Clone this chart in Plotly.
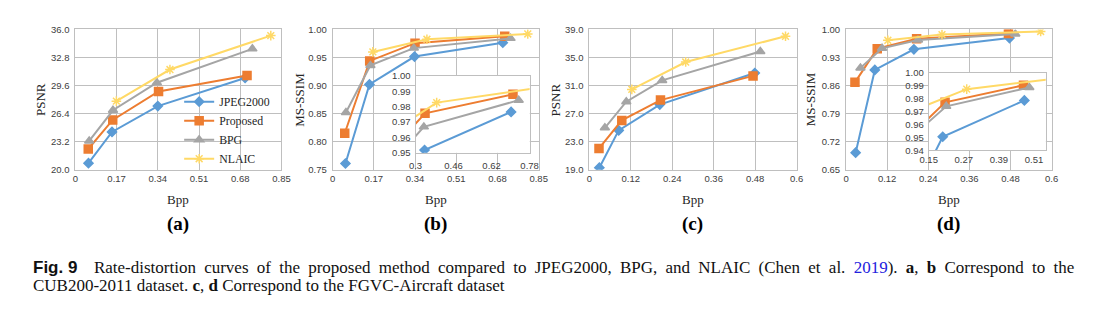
import plotly.graph_objects as go

W, H = 1098, 331

# ---- data -------------------------------------------------------------
series_names = ["JPEG2000", "Proposed", "BPG", "NLAIC"]
series_colors = ["#5B9BD5", "#ED7D31", "#A5A5A5", "#FFD966"]
series_symbols = ["diamond", "square", "triangle-up", "asterisk-open"]
series_sizes = [7, 8, 8, 8]

# (a) CUB200-2011, PSNR
a_bpp = [
    [0.054, 0.151, 0.340, 0.700],
    [0.053, 0.154, 0.343, 0.708],
    [0.057, 0.155, 0.336, 0.730],
    [0.169, 0.390, 0.806],
]
a_psnr = [
    [20.74, 24.31, 27.26, 30.47],
    [22.36, 25.68, 28.92, 30.76],
    [23.28, 26.78, 29.92, 33.79],
    [27.82, 31.43, 35.30],
]

# (b) CUB200-2011, MS-SSIM
b_bpp = [
    [0.053, 0.152, 0.338, 0.702],
    [0.050, 0.153, 0.340, 0.710],
    [0.055, 0.156, 0.335, 0.734],
    [0.166, 0.389, 0.805],
]
b_msssim = [
    [0.761, 0.902, 0.9517, 0.9765],
    [0.815, 0.944, 0.9756, 0.9880],
    [0.852, 0.936, 0.9668, 0.9842],
    [0.960, 0.9826, 0.9920],
]

# (c) FGVC-Aircraft, PSNR
c_bpp = [
    [0.029, 0.085, 0.204, 0.479],
    [0.028, 0.094, 0.206, 0.474],
    [0.045, 0.107, 0.211, 0.495],
    [0.123, 0.279, 0.568],
]
c_psnr = [
    [19.28, 24.61, 28.29, 32.79],
    [22.03, 26.03, 28.93, 32.38],
    [24.98, 28.70, 31.74, 35.87],
    [30.45, 34.36, 38.03],
]

# (d) FGVC-Aircraft, MS-SSIM
d_bpp = [
    [0.028, 0.084, 0.198, 0.477],
    [0.026, 0.091, 0.206, 0.474],
    [0.042, 0.105, 0.210, 0.494],
    [0.122, 0.280, 0.568],
]
d_msssim = [
    [0.6925, 0.899, 0.9505, 0.9786],
    [0.868, 0.952, 0.9771, 0.9903],
    [0.904, 0.953, 0.9740, 0.9886],
    [0.973, 0.9873, 0.9950],
]

bpp_ticks_85 = [0, 0.17, 0.34, 0.51, 0.68, 0.85]
bpp_ticks_60 = [0, 0.12, 0.24, 0.36, 0.48, 0.6]
inset_b_ticks = [0.3, 0.46, 0.62, 0.78]
inset_d_ticks = [0.15, 0.27, 0.39, 0.51]

panel_labels = ["(a)", "(b)", "(c)", "(d)"]

# ---- layout helpers -----------------------------------------------------
def px_x(p):
    return p / W


def px_y(p):
    return 1 - p / H


GRID = "#BFBFBF"
TICK_FONT = dict(family="Liberation Sans, Arial, sans-serif", size=9.5, color="#404040")
SERIF = "Liberation Serif"
SANS = "Liberation Sans"

fig = go.Figure()

# panel geometry (pixels): left, right, top, bottom
main_boxes = [
    (67.5, 277.0, 24.3, 169.3),
    (329.0, 538.5, 24.3, 169.3),
    (590.0, 800.7, 24.3, 169.3),
    (851.0, 1060.0, 24.3, 169.3),
]
inset_boxes = [
    (413.3, 529.3, 72.3, 151.7),
    (935.0, 1054.0, 69.0, 149.3),
]

layout = {}


def axis_common():
    return dict(
        showgrid=True, gridcolor=GRID, gridwidth=1,
        showline=True, linecolor=GRID, linewidth=1, mirror=True,
        zeroline=False, ticks="", tickfont=TICK_FONT,
        fixedrange=True,
    )


def steps(lo, hi, step):
    out = []
    v = lo
    while v <= hi + 1e-9:
        out.append(round(v, 4))
        v += step
    return out


main_specs = [
    dict(xr=[0, 0.85], xt=bpp_ticks_85, yr=[20, 36], dy=3.2, nd=1, ytitle="PSNR"),
    dict(xr=[0, 0.85], xt=bpp_ticks_85, yr=[0.75, 1.0], dy=0.05, nd=2, ytitle="MS-SSIM"),
    dict(xr=[0, 0.6], xt=bpp_ticks_60, yr=[19, 39], dy=4, nd=1, ytitle="PSNR"),
    dict(xr=[0, 0.6], xt=bpp_ticks_60, yr=[0.65, 1.0], dy=0.07, nd=2, ytitle="MS-SSIM"),
]

for i, (box, spec) in enumerate(zip(main_boxes, main_specs)):
    n = i + 1
    l, r, t, b = box
    xa = axis_common()
    xa.update(
        domain=[px_x(l), px_x(r)], range=spec["xr"], anchor=f"y{n}",
        tickmode="array", tickvals=spec["xt"],
        ticktext=[("0" if v == 0 else f"{v:g}") for v in spec["xt"]],
        ticklabelstandoff=0,
    )
    yvals = steps(spec["yr"][0], spec["yr"][1], spec["dy"])
    ya = axis_common()
    ya.update(
        domain=[px_y(b), px_y(t)], range=spec["yr"], anchor=f"x{n}",
        tickmode="array", tickvals=yvals,
        ticktext=[f"{v:.{spec['nd']}f}" for v in yvals],
        ticklabelstandoff=3,
    )
    layout[f"xaxis{n}"] = xa
    layout[f"yaxis{n}"] = ya

inset_specs = [
    dict(xr=[0.3, 0.78], xt=inset_b_ticks, yr=[0.95, 1.0], xstand=4),
    dict(xr=[0.15, 0.55], xt=inset_d_ticks, yr=[0.94, 1.0], xstand=0),
]
for j, (box, spec) in enumerate(zip(inset_boxes, inset_specs)):
    n = 5 + j
    l, r, t, b = box
    xa = axis_common()
    xa.update(
        showgrid=False, domain=[px_x(l), px_x(r)], range=spec["xr"], anchor=f"y{n}",
        tickmode="array", tickvals=spec["xt"], ticktext=[f"{v:g}" for v in spec["xt"]],
        ticklabelstandoff=spec["xstand"],
    )
    yvals = steps(spec["yr"][0], spec["yr"][1], 0.01)
    ya = axis_common()
    ya.update(
        showgrid=False, domain=[px_y(b), px_y(t)], range=spec["yr"], anchor=f"x{n}",
        tickmode="array", tickvals=yvals, ticktext=[f"{v:.2f}" for v in yvals],
        ticklabelstandoff=2,
    )
    layout[f"xaxis{n}"] = xa
    layout[f"yaxis{n}"] = ya


def add_series(bpp, vals, n, legend):
    for k in range(4):
        fig.add_trace(go.Scatter(
            x=bpp[k], y=vals[k], mode="lines+markers",
            name=series_names[k], legendgroup=series_names[k], showlegend=legend,
            line=dict(color=series_colors[k], width=2),
            marker=dict(symbol=series_symbols[k], size=series_sizes[k],
                        color=series_colors[k],
                        line=dict(color=series_colors[k], width=1.5)),
            xaxis=f"x{n}", yaxis=f"y{n}", hoverinfo="skip",
        ))


def add_inset_bg(n, spec):
    # white panel behind the zoomed view so the main grid does not show through
    x0, x1 = spec["xr"]
    y0, y1 = spec["yr"]
    fig.add_trace(go.Scatter(
        x=[x0, x1, x1, x0, x0], y=[y0, y0, y1, y1, y0], mode="lines",
        fill="toself", fillcolor="white", line=dict(width=0),
        showlegend=False, hoverinfo="skip", xaxis=f"x{n}", yaxis=f"y{n}",
    ))


add_series(a_bpp, a_psnr, 1, True)
add_series(b_bpp, b_msssim, 2, False)
add_series(c_bpp, c_psnr, 3, False)
add_series(d_bpp, d_msssim, 4, False)
add_inset_bg(5, inset_specs[0])
add_series(b_bpp, b_msssim, 5, False)
add_inset_bg(6, inset_specs[1])
add_series(d_bpp, d_msssim, 6, False)

# axis titles and panel labels
annotations = []
ytitle_x = [32, 295, 556, 815]
for i, (box, spec) in enumerate(zip(main_boxes, main_specs)):
    l, r, t, b = box
    cx = (l + r) / 2
    annotations.append(dict(
        text="Bpp", x=px_x(cx), y=px_y(200), xref="paper", yref="paper",
        xanchor="center", yanchor="middle", showarrow=False,
        font=dict(family=SERIF, size=13, color="#262626"),
    ))
    annotations.append(dict(
        text=spec["ytitle"], x=px_x(ytitle_x[i]), y=px_y((t + b) / 2),
        xref="paper", yref="paper", xanchor="center", yanchor="middle",
        textangle=-90, showarrow=False,
        font=dict(family=SERIF, size=13, color="#262626"),
    ))
    annotations.append(dict(
        text=f"<b>{panel_labels[i]}</b>", x=px_x(cx), y=px_y(226),
        xref="paper", yref="paper", xanchor="center", yanchor="middle",
        showarrow=False, font=dict(family=SERIF, size=19, color="black"),
    ))

caption_1 = ("<span style='font-family:Liberation Sans'><b>Fig. 9</b></span>"
             "<span style='word-spacing:4px'>  Rate-distortion curves of the proposed method compared to JPEG2000, BPG, "
             "and NLAIC (Chen et al. </span><span style='color:#2222dd'>2019</span>"
             "<span style='word-spacing:4px'>). <b>a</b>, <b>b</b> Correspond to the</span>")
caption_2 = "CUB200-2011 dataset. <b>c</b>, <b>d</b> Correspond to the FGVC-Aircraft dataset"
for txt, yy in [(caption_1, 270), (caption_2, 289)]:
    annotations.append(dict(
        text=txt, x=px_x(22), y=px_y(yy), xref="paper", yref="paper",
        xanchor="left", yanchor="middle", showarrow=False,
        font=dict(family=SERIF, size=17, color="#111111"),
    ))

fig.update_layout(
    **layout,
    width=W, height=H,
    margin=dict(l=0, r=0, t=0, b=0),
    paper_bgcolor="white", plot_bgcolor="white",
    annotations=annotations,
    legend=dict(
        x=px_x(173), y=px_y(84), xanchor="left", yanchor="top",
        bgcolor="rgba(0,0,0,0)", borderwidth=0,
        font=dict(family=SERIF, size=11.8, color="#262626"),
        tracegroupgap=0, itemwidth=30,
    ),
    showlegend=True,
)

fig.write_html("out.html", config={"displayModeBar": False})
